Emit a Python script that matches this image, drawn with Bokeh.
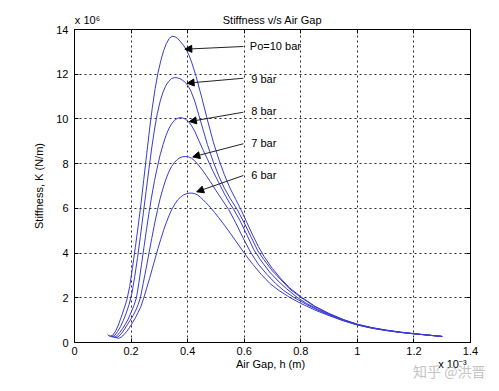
from bokeh.plotting import figure
from bokeh.models import (Range1d, LinearAxis, FixedTicker, Arrow, NormalHead,
                          Title, LabelSet, ColumnDataSource)
from bokeh.core.properties import value
from bokeh.embed import file_html
from bokeh.resources import INLINE

# ---------------- data ----------------
x_ticks = [0, 0.2, 0.4, 0.6, 0.8, 1.0, 1.2, 1.4]
x_tick_labels = ["0", "0.2", "0.4", "0.6", "0.8", "1", "1.2", "1.4"]
y_ticks = [0, 2, 4, 6, 8, 10, 12, 14]
y_tick_labels = ["0", "2", "4", "6", "8", "10", "12", "14"]
x_scale_note = "x 10\u207b\u00b3"   # x 10^-3
y_scale_note = "x 10\u2076"          # x 10^6
x_label = "Air Gap, h (m)"
y_label = "Stiffness, K (N/m)"
chart_title = "Stiffness v/s Air Gap"
watermark = "知乎 @洪晋"

# air gap (x 1e-3 m) and stiffness (x 1e6 N/m)
h_10 = [0.117, 0.125, 0.135, 0.145, 0.155, 0.165, 0.175, 0.185, 0.195, 0.205, 0.215,
        0.225, 0.235, 0.245, 0.255, 0.265, 0.275, 0.285, 0.295, 0.305, 0.315, 0.325,
        0.335, 0.345, 0.355, 0.365, 0.375, 0.385, 0.395, 0.405, 0.415, 0.43, 0.45,
        0.47, 0.49, 0.51, 0.53, 0.55, 0.57, 0.59, 0.61, 0.63, 0.65, 0.67, 0.7, 0.73,
        0.76, 0.8, 0.85, 0.9, 0.95, 1.0, 1.05, 1.1, 1.15, 1.2, 1.25, 1.3]
k_10 = [0.35, 0.27, 0.32, 0.5, 0.78, 1.13, 1.5, 1.9, 2.5, 3.35, 4.25,
        5.2, 6.2, 7.3, 8.4, 9.5, 10.5, 11.35, 12.05, 12.6, 13.05, 13.38,
        13.6, 13.7, 13.68, 13.6, 13.45, 13.3, 13.1, 12.85, 12.5, 11.9, 10.95,
        9.95, 9.0, 8.2, 7.5, 6.9, 6.4, 5.9, 5.35, 4.8, 4.3, 3.85, 3.3, 2.85,
        2.45, 2.05, 1.62, 1.3, 1.03, 0.82, 0.67, 0.56, 0.47, 0.4, 0.33, 0.27]

h_9 = [0.123, 0.133, 0.143, 0.153, 0.163, 0.173, 0.183, 0.193, 0.203, 0.213, 0.223,
       0.233, 0.243, 0.253, 0.263, 0.273, 0.283, 0.293, 0.303, 0.313, 0.323, 0.333,
       0.343, 0.353, 0.363, 0.373, 0.383, 0.393, 0.403, 0.413, 0.425, 0.44, 0.455,
       0.47, 0.49, 0.51, 0.53, 0.55, 0.575, 0.6, 0.625, 0.648, 0.67, 0.7, 0.73,
       0.76, 0.8, 0.85, 0.9, 0.95, 1.0, 1.05, 1.1, 1.15, 1.2, 1.25, 1.3]
k_9 = [0.32, 0.24, 0.33, 0.5, 0.72, 1.0, 1.32, 1.7, 2.2, 2.95, 3.8,
       4.75, 5.75, 6.75, 7.75, 8.7, 9.55, 10.25, 10.8, 11.2, 11.5, 11.68,
       11.8, 11.85, 11.84, 11.8, 11.72, 11.62, 11.45, 11.2, 10.8, 10.15, 9.5,
       8.85, 8.1, 7.45, 6.9, 6.45, 5.95, 5.35, 4.7, 4.1, 3.7, 3.2, 2.8,
       2.4, 2.02, 1.6, 1.28, 1.02, 0.81, 0.66, 0.55, 0.46, 0.39, 0.33, 0.27]

h_8 = [0.13, 0.14, 0.15, 0.16, 0.17, 0.18, 0.19, 0.2, 0.21, 0.219, 0.228, 0.237,
       0.246, 0.255, 0.264, 0.273, 0.283, 0.293, 0.303, 0.313, 0.323, 0.333, 0.343,
       0.353, 0.363, 0.373, 0.383, 0.393, 0.403, 0.413, 0.425, 0.439, 0.455, 0.47,
       0.49, 0.51, 0.53, 0.55, 0.563, 0.585, 0.61, 0.634, 0.66, 0.69, 0.72, 0.75,
       0.787, 0.82, 0.86, 0.9, 0.95, 1.0, 1.05, 1.1, 1.15, 1.2, 1.25, 1.3]
k_8 = [0.3, 0.22, 0.3, 0.45, 0.62, 0.82, 1.05, 1.35, 1.65, 2.0, 2.7, 3.5,
       4.3, 5.1, 5.85, 6.55, 7.25, 7.85, 8.4, 8.85, 9.25, 9.55, 9.78,
       9.93, 10.02, 10.06, 10.04, 9.98, 9.88, 9.72, 9.45, 9.05, 8.6, 8.2,
       7.65, 7.15, 6.65, 6.2, 5.95, 5.45, 4.8, 4.15, 3.65, 3.15, 2.75, 2.4,
       2.02, 1.75, 1.48, 1.26, 1.01, 0.8, 0.66, 0.55, 0.46, 0.39, 0.33, 0.27]

h_7 = [0.137, 0.147, 0.157, 0.167, 0.177, 0.187, 0.197, 0.207, 0.217, 0.225, 0.233,
       0.243, 0.253, 0.263, 0.273, 0.283, 0.293, 0.303, 0.313, 0.323, 0.333, 0.343,
       0.353, 0.363, 0.373, 0.383, 0.393, 0.403, 0.413, 0.423, 0.435, 0.45, 0.465,
       0.48, 0.5, 0.52, 0.545, 0.57, 0.595, 0.622, 0.65, 0.68, 0.71, 0.74, 0.778,
       0.82, 0.86, 0.9, 0.95, 1.0, 1.05, 1.1, 1.15, 1.2, 1.25, 1.3]
k_7 = [0.28, 0.2, 0.28, 0.42, 0.6, 0.8, 1.0, 1.2, 1.45, 1.7, 2.0,
       2.65, 3.3, 3.98, 4.65, 5.3, 5.9, 6.45, 6.9, 7.3, 7.62, 7.87,
       8.05, 8.18, 8.27, 8.31, 8.32, 8.3, 8.25, 8.15, 7.98, 7.75, 7.48,
       7.2, 6.8, 6.42, 5.95, 5.35, 4.7, 4.05, 3.5, 3.05, 2.65, 2.32, 2.0,
       1.7, 1.45, 1.23, 0.99, 0.79, 0.65, 0.54, 0.46, 0.39, 0.33, 0.27]

h_6 = [0.145, 0.155, 0.165, 0.175, 0.185, 0.195, 0.205, 0.215, 0.225, 0.235, 0.245,
       0.255, 0.265, 0.275, 0.285, 0.295, 0.305, 0.315, 0.325, 0.335, 0.345, 0.355,
       0.365, 0.375, 0.385, 0.395, 0.405, 0.415, 0.425, 0.435, 0.445, 0.455, 0.465,
       0.48, 0.495, 0.51, 0.53, 0.55, 0.575, 0.6, 0.63, 0.66, 0.69, 0.72, 0.763,
       0.8, 0.85, 0.9, 0.95, 1.0, 1.05, 1.1, 1.15, 1.2, 1.25, 1.3]
k_6 = [0.25, 0.18, 0.24, 0.35, 0.5, 0.68, 0.88, 1.1, 1.35, 1.62, 2.0,
       2.42, 2.85, 3.3, 3.75, 4.2, 4.62, 5.02, 5.38, 5.7, 5.98, 6.2,
       6.38, 6.5, 6.6, 6.65, 6.68, 6.68, 6.66, 6.6, 6.5, 6.38, 6.25,
       6.05, 5.82, 5.58, 5.25, 4.9, 4.45, 4.0, 3.5, 3.05, 2.65, 2.35, 2.0,
       1.75, 1.45, 1.2, 0.97, 0.78, 0.64, 0.54, 0.45, 0.39, 0.33, 0.27]

series_h = [h_10, h_9, h_8, h_7, h_6]
series_k = [k_10, k_9, k_8, k_7, k_6]

curve_labels = ["Po=10 bar", "9 bar", "8 bar", "7 bar", "6 bar"]
arrow_tail_h = [0.597, 0.597, 0.597, 0.597, 0.597]
arrow_tail_k = [13.24, 11.82, 10.30, 8.89, 7.47]
arrow_tip_h = [0.39, 0.398, 0.406, 0.418, 0.432]
arrow_tip_k = [13.12, 11.6, 9.88, 8.3, 6.74]
label_h = [0.62, 0.625, 0.625, 0.625, 0.625]
label_k = [13.25, 11.8, 10.35, 8.92, 7.5]

# where the scale notes / title / axis label sit along the axes
note_pos_top = [0.046, 0.7]
note_pos_bottom = [0.693, 1.336]

FONT = "Liberation Sans"

p = figure(width=491, height=383, output_backend="svg", toolbar_location=None,
           x_range=Range1d(0, 1.4), y_range=Range1d(0, 14),
           min_border_left=74, min_border_right=21, min_border_top=29,
           min_border_bottom=41)
p.background_fill_color = "white"
p.border_fill_color = "white"
p.outline_line_color = "black"
p.outline_line_width = 1

for ax in (p.xaxis[0], p.yaxis[0]):
    ax.major_tick_in = 4
    ax.major_tick_out = 0
    ax.minor_tick_in = 0
    ax.minor_tick_out = 0
    ax.axis_line_color = "black"
    ax.major_tick_line_color = "black"
    ax.major_label_text_font = FONT
    ax.major_label_text_font_size = "11px"
    ax.major_label_text_color = "black"
    ax.axis_label_text_font = FONT
    ax.axis_label_text_font_size = "11px"
    ax.axis_label_text_font_style = "normal"
    ax.axis_label_text_color = "black"

p.xaxis[0].ticker = FixedTicker(ticks=x_ticks)
p.xaxis[0].major_label_overrides = dict(zip(x_ticks, x_tick_labels))
p.yaxis[0].ticker = FixedTicker(ticks=y_ticks)
p.yaxis[0].major_label_overrides = dict(zip(y_ticks, y_tick_labels))
p.yaxis[0].axis_label = y_label
p.xaxis[0].major_label_standoff = 4
p.yaxis[0].major_label_standoff = 6
p.yaxis[0].axis_label_standoff = 8

# box ticks on top and right
top = LinearAxis(ticker=FixedTicker(ticks=x_ticks),
                 major_label_overrides={t: "" for t in x_ticks},
                 major_tick_in=4, major_tick_out=0, minor_tick_in=0, minor_tick_out=0,
                 axis_line_color="black", major_label_standoff=0,
                 major_label_text_font_size="1px")
right = LinearAxis(ticker=FixedTicker(ticks=y_ticks),
                   major_label_overrides={t: "" for t in y_ticks},
                   major_tick_in=4, major_tick_out=0, minor_tick_in=0, minor_tick_out=0,
                   axis_line_color="black", major_label_standoff=0)
p.add_layout(top, "above")
p.add_layout(right, "right")


def note_axis(ticks, texts, standoff):
    return LinearAxis(ticker=FixedTicker(ticks=ticks),
                      major_label_overrides=dict(zip(ticks, texts)),
                      major_tick_in=0, major_tick_out=0, minor_tick_in=0,
                      minor_tick_out=0, axis_line_color=None,
                      major_label_standoff=standoff, major_label_text_font=FONT,
                      major_label_text_font_size="11px", major_label_text_color="black")


# "x 10^6" note and the chart title on one row above the axes
p.add_layout(note_axis(note_pos_top, [y_scale_note, chart_title], 4), "above")
# x-axis label and "x 10^-3" note on one row below the tick labels
p.add_layout(note_axis(note_pos_bottom, [x_label, x_scale_note], 0), "below")
# watermark
p.add_layout(Title(text=watermark, align="right", vertical_align="top",
                   text_font="Noto Sans CJK SC", text_font_size="14px",
                   text_font_style="normal", text_color="#c4c4c4",
                   standoff=-23, offset=-15), "below")

p.xgrid.ticker = FixedTicker(ticks=x_ticks)
p.ygrid.ticker = FixedTicker(ticks=y_ticks)
for g in (p.xgrid[0], p.ygrid[0]):
    g.grid_line_color = "black"
    g.grid_line_dash = "2 3"
    g.grid_line_width = 1
    g.grid_line_alpha = 0.85

for hs, ks in zip(series_h, series_k):
    p.line(hs, ks, line_color="#3b3bd0", line_width=1)

arrow_src = ColumnDataSource(dict(xs=arrow_tail_h, ys=arrow_tail_k,
                                  xe=arrow_tip_h, ye=arrow_tip_k))
p.add_layout(Arrow(end=NormalHead(size=7, fill_color="black", line_color="black"),
                   source=arrow_src, x_start="xs", y_start="ys", x_end="xe", y_end="ye",
                   line_color="#222222", line_width=1))

lab_src = ColumnDataSource(dict(x=label_h, y=label_k, t=curve_labels))
p.add_layout(LabelSet(source=lab_src, x="x", y="y", text="t", text_baseline="middle",
                      text_font=value(FONT), text_font_size=value("11px"),
                      text_color="black"))

open("out.html", "w").write(file_html(p, INLINE))
